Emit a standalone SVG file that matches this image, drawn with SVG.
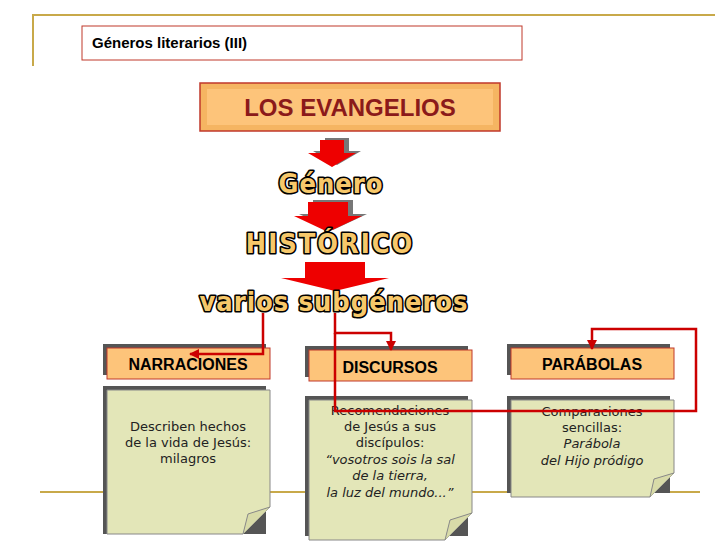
<svg xmlns="http://www.w3.org/2000/svg" width="728" height="546" viewBox="0 0 728 546">
<defs>
<style>
.gold{stroke:#c8a94a;stroke-width:2;fill:none}
.hdr{fill:#fdc47a;stroke:#c0392b;stroke-width:1}
.sh{fill:#555}
.note{fill:#e3e6b8;stroke:#888;stroke-width:1}
.ht{font-family:"Liberation Sans",Arial,sans-serif;font-weight:bold;fill:#000;text-anchor:middle}
.nt{font-family:"DejaVu Sans",sans-serif;font-size:13px;fill:#222;text-anchor:middle}
.big{font-family:"DejaVu Sans Condensed","DejaVu Sans",sans-serif;font-weight:bold;font-size:27px;fill:#f7c86a;stroke:#000;stroke-width:3.2;stroke-linejoin:round;paint-order:stroke;text-anchor:middle}
.arr{fill:#ee0000}
.con{stroke:#cc0000;stroke-width:2.5;fill:none}
</style>
<marker id="ah" viewBox="0 0 10 10" refX="9" refY="5" markerWidth="4" markerHeight="4" orient="auto"><path d="M0,0L10,5L0,10z" fill="#cc0000"/></marker>
</defs>
<rect width="728" height="546" fill="#fff"/>
<path class="gold" d="M33,14V66M33,15H715M40,492H700"/>
<g id="title"><rect x="82" y="26" width="440" height="34" fill="#fff" stroke="#c0392b"/><text x="92" y="48" font-family="Liberation Sans,Arial,sans-serif" font-weight="bold" font-size="15">Géneros literarios (III)</text></g>
<g id="evangelios">
<rect x="200" y="83" width="300" height="48" fill="#f5b562" stroke="#c0392b" stroke-width="1.5"/>
<rect x="207" y="89" width="286" height="36" fill="#fdc47a"/>
<text x="350" y="116" font-family="Liberation Sans,Arial,sans-serif" font-weight="bold" font-size="24" fill="#8b1a1a" text-anchor="middle">LOS EVANGELIOS</text></g>
<g id="arrows">
<path d="M325,138h24v13h12l-24,14l-24,-14h12z" fill="#777"/>
<path class="arr" d="M320,140h24v13h12l-24,14l-24,-14h12z"/>
<path d="M313,200h40v14h14l-34,16l-34,-16h14z" fill="#777"/>
<path class="arr" d="M308,202h40v14h14l-34,16l-34,-16h14z"/>
<path class="arr" d="M305,262h60v16h24l-54,13l-54,-13h24z"/>
</g>
<g id="genero"><text class="big" x="331" y="193" letter-spacing="1">Género</text></g>
<g id="historico"><text class="big" x="330" y="253" font-size="25" letter-spacing="2">HISTÓRICO</text></g>
<g id="subgeneros"><text class="big" x="334" y="311" letter-spacing="1">varios subgéneros</text></g>
<g id="narraciones">
<rect class="sh" x="103" y="344" width="163" height="31"/><rect class="hdr" x="107" y="348" width="163" height="31"/>
<text class="ht" x="188" y="370" font-size="16">NARRACIONES</text>
<rect class="sh" x="103" y="386" width="163" height="148"/>
<path class="note" d="M107,390h163v117l-27,27h-136z"/><path d="M243,534l5,-20l22,-7" fill="#d8dba8" stroke="#888"/>
<text class="nt" x="188" y="431">Describen hechos</text><text class="nt" x="188" y="447">de la vida de Jesús:</text><text class="nt" x="188" y="463">milagros</text>
</g>
<g id="discursos">
<rect class="sh" x="305" y="346" width="163" height="31"/><rect class="hdr" x="309" y="350" width="163" height="31"/>
<text class="ht" x="390" y="373" font-size="16">DISCURSOS</text>
<rect class="sh" x="305" y="396" width="163" height="140"/>
<path class="note" d="M309,400h163v113l-27,27h-136z"/><path d="M445,540l5,-20l22,-7" fill="#d8dba8" stroke="#888"/>
<text class="nt" x="390" y="415">Recomendaciones</text><text class="nt" x="390" y="431">de Jesús a sus</text><text class="nt" x="390" y="447">discípulos:</text>
<text class="nt" x="390" y="464" font-style="italic">“vosotros sois la sal</text><text class="nt" x="390" y="480" font-style="italic">de la tierra,</text><text class="nt" x="390" y="497" font-style="italic">la luz del mundo...”</text>
</g>
<g id="parabolas">
<rect class="sh" x="507" y="344" width="163" height="31"/><rect class="hdr" x="511" y="348" width="163" height="31"/>
<text class="ht" x="592" y="370" font-size="16">PARÁBOLAS</text>
<rect class="sh" x="507" y="396" width="163" height="97"/>
<path class="note" d="M511,400h163v73l-24,24h-139z"/><path d="M650,497l4,-18l20,-6" fill="#d8dba8" stroke="#888"/>
<text class="nt" x="592" y="416">Comparaciones</text><text class="nt" x="592" y="432">sencillas:</text>
<text class="nt" x="592" y="448" font-style="italic">Parábola</text><text class="nt" x="592" y="465" font-style="italic">del Hijo pródigo</text>
</g>
<g id="connectors">
<path class="con" marker-end="url(#ah)" d="M263,313V354H190"/>
<path class="con" marker-end="url(#ah)" d="M335,313V333H391V350"/>
<path class="con" marker-end="url(#ah)" d="M335,333V411H696V329H592V349"/>
</g>
</svg>
